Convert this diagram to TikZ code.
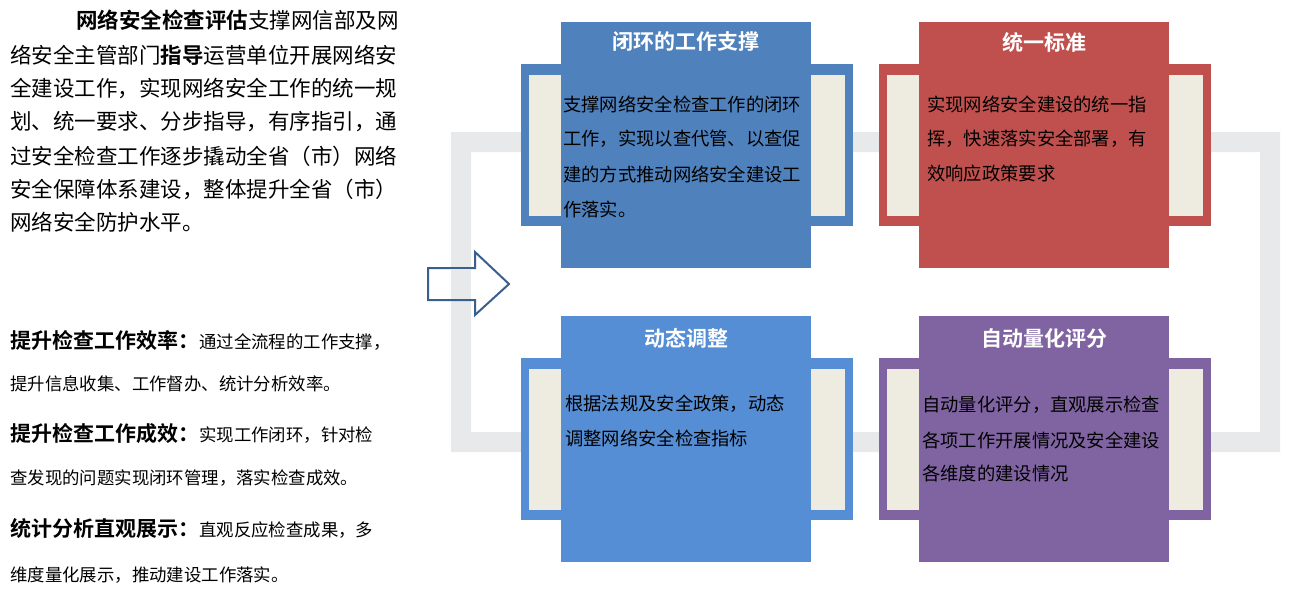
\documentclass[tikz,border=0pt]{standalone}
\usepackage{fontspec}
\setmainfont{Noto Sans CJK SC}
\newfontfamily\cjkb{Noto Sans CJK SC Bold}
\begin{document}
\begin{tikzpicture}[x=1pt,y=-1pt,
  lt/.style={anchor=west,inner sep=0pt,font=\fontsize{21.5}{21}\selectfont},
  st/.style={anchor=west,inner sep=0pt,font=\fontsize{17.4}{17}\selectfont},
  ct/.style={anchor=west,inner sep=0pt,font=\fontsize{18.3}{18}\selectfont},
  tt/.style={inner sep=0pt,text=white,font=\cjkb\fontsize{21}{21}\selectfont}]
\useasboundingbox (0,0) rectangle (1289,597);
\definecolor{cA}{HTML}{4F81BD}\definecolor{cB}{HTML}{C0504D}
\definecolor{cC}{HTML}{558ED5}\definecolor{cD}{HTML}{8064A2}
\definecolor{bg}{HTML}{EEECE1}\definecolor{ring}{HTML}{E8E9EB}
\definecolor{ar}{HTML}{3A5F8A}
% ring
\fill[ring,even odd rule] (451,132) rectangle (1280,452) (471,152) rectangle (1260,432);
% arrow
\draw[ar,line width=2pt,fill=white] (428,268) -- (475,268) -- (475,252) -- (509,284) -- (475,315) -- (475,300) -- (428,300) -- cycle;
\fill[ring] (451,269) rectangle (471,299);
% cards
\foreach \x/\y/\c in {521/64/cA,879/64/cB,521/358/cC,879/358/cD}{
  \fill[\c] (\x,\y) rectangle ++(332,162);
  \fill[bg] (\x+8,\y+11) rectangle ++(316,141);
  \fill[\c] (\x+40,\y-42) rectangle ++(250,246);
}
\node[tt] (t1) at (686,42) {闭环的工作支撑};
\node[tt] (t2) at (1044,42) {统一标准};
\node[tt] (t3) at (686,338) {动态调整};
\node[tt] (t4) at (1044,338) {自动量化评分};
\node[ct] (a1) at (563,104) {支撑网络安全检查工作的闭环};
\node[ct] (a2) at (563,139) {工作，实现以查代管、以查促};
\node[ct] (a3) at (563,174) {建的方式推动网络安全建设工};
\node[ct] (a4) at (563,209) {作落实。};
\node[ct] (b1) at (927,104) {实现网络安全建设的统一指};
\node[ct] (b2) at (927,139) {挥，快速落实安全部署，有};
\node[ct] (b3) at (927,174) {效响应政策要求};
\node[ct] (c1) at (565,404) {根据法规及安全政策，动态};
\node[ct] (c2) at (565,438) {调整网络安全检查指标};
\node[ct] (d1) at (922,405) {自动量化评分，直观展示检查};
\node[ct] (d2) at (922,440) {各项工作开展情况及安全建设};
\node[ct] (d3) at (922,474) {各维度的建设情况};
% left text
\node[lt] (l1) at (76,20) {{\cjkb 网络安全检查评估}支撑网信部及网};
\node[lt] (l2) at (10,55) {络安全主管部门{\cjkb 指导}运营单位开展网络安};
\node[lt] (l3) at (10,88) {全建设工作，实现网络安全工作的统一规};
\node[lt] (l4) at (10,122) {划、统一要求、分步指导，有序指引，通};
\node[lt] (l5) at (10,156) {过安全检查工作逐步撬动全省（市）网络};
\node[lt] (l6) at (10,189) {安全保障体系建设，整体提升全省（市）};
\node[lt] (l7) at (10,222) {网络安全防护水平。};
\node[st] (m1) at (10,340) {{\cjkb\fontsize{21}{21}\selectfont 提升检查工作效率：}通过全流程的工作支撑，};
\node[st] (m2) at (10,384) {提升信息收集、工作督办、统计分析效率。};
\node[st] (m3) at (10,434) {{\cjkb\fontsize{21}{21}\selectfont 提升检查工作成效：}实现工作闭环，针对检};
\node[st] (m4) at (10,478) {查发现的问题实现闭环管理，落实检查成效。};
\node[st] (m5) at (10,528) {{\cjkb\fontsize{21}{21}\selectfont 统计分析直观展示：}直观反应检查成果，多};
\node[st] (m6) at (10,575) {维度量化展示，推动建设工作落实。};
\end{tikzpicture}
\end{document}
